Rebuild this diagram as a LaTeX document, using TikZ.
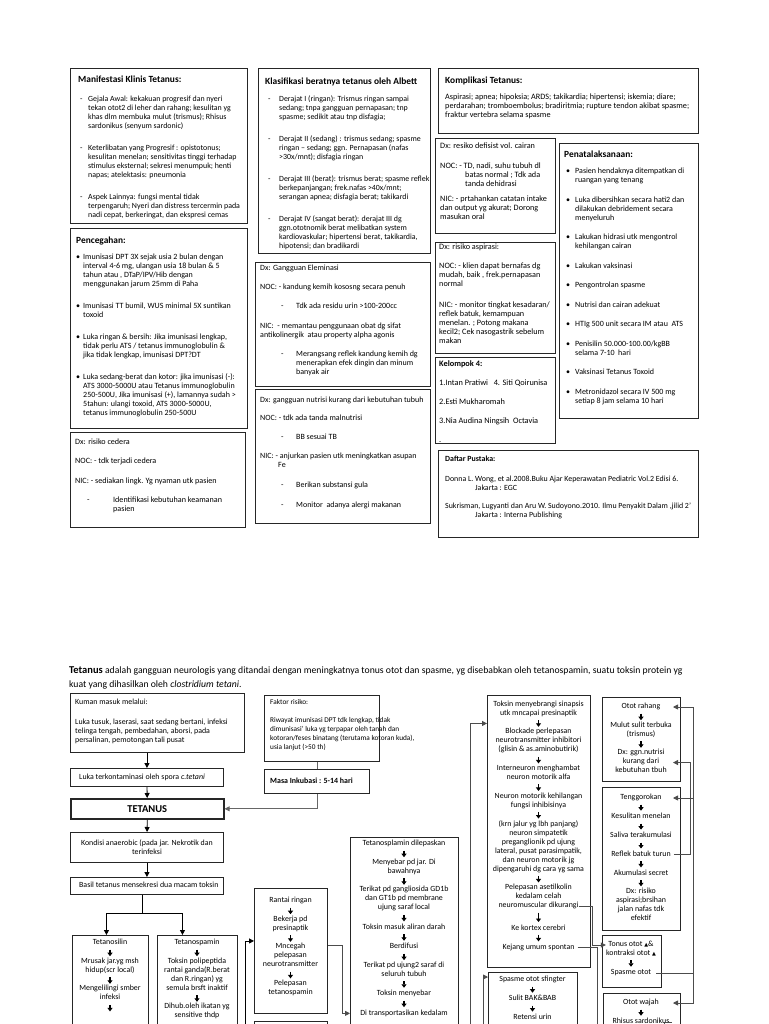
\documentclass[tikz,border=0pt]{standalone}
\usepackage{fontspec}
\setmainfont{Carlito}
\newfontfamily\symfont{DejaVu Sans}
\usetikzlibrary{arrows.meta,positioning}

\newcommand{\sz}[1]{\fontsize{#1}{9}\selectfont}
\newcommand{\bodyfont}{\fontsize{7.9}{9}\selectfont}
\newcommand{\headfont}{\fontsize{9.4}{11}\selectfont\bfseries}
\newcommand{\dsh}[1]{\makebox[#1][l]{-}}
\newcommand{\blt}[1]{\makebox[#1][l]{\textbullet}}
\newcommand{\hng}[1]{\hspace*{#1}}
\newcommand{\upmark}{{\symfont\fontsize{5}{5}\selectfont ▲}}

\begin{document}
\begin{tikzpicture}[
  x=1pt, y=-1pt,
  frame/.style={draw=black!85, line width=0.9pt, anchor=north west, inner sep=0pt},
  txt/.style={anchor=north west, inner sep=0pt, align=left, font=\bodyfont,
    execute at begin node=\strut, execute at end node=\strut},
  head/.style={anchor=base west, inner sep=0pt, font=\headfont},
  stage/.style={inner sep=0pt, align=center, font=\bodyfont,
    execute at begin node=\strut, execute at end node=\strut},
  drop/.style={-{Triangle[width=5pt,length=3.5pt]}, line width=1.3pt, shorten <=2pt, shorten >=1.5pt},
  flow/.style={-{Triangle[width=5pt,length=5pt]}, line width=0.8pt},
  link/.style={line width=0.8pt, draw=black!60}
]
\useasboundingbox (0,0) rectangle (768,1024);
\clip (0,0) rectangle (768,1024);
\fill[white] (0,0) rectangle (768,1024);

% ---------- top sheet ----------
\node[frame, minimum width=177pt, minimum height=155pt] (manif) at (70,68) {};
\node[head] (maniftitle) at (78,82.5) {Manifestasi Klinis Tetanus:};
\node[txt, font=\sz{7.9}] (maniftext) at (80,96) {\dsh{8pt}Gejala Awal: kekakuan progresif dan nyeri\\
\hng{8pt}tekan otot2 di leher dan rahang; kesulitan yg\\
\hng{8pt}khas dlm membuka mulut (trismus); Rhisus\\
\hng{8pt}sardonikus (senyum sardonic)\\[13pt]
\dsh{8pt}Keterlibatan yang Progresif : opistotonus;\\
\hng{8pt}kesulitan menelan; sensitivitas tinggi terhadap\\
\hng{8pt}stimulus eksternal; sekresi menumpuk; henti\\
\hng{8pt}napas; atelektasis: pneumonia\\[13pt]
\dsh{8pt}Aspek Lainnya: fungsi mental tidak\\
\hng{8pt}terpengaruh; Nyeri dan distress tercermin pada\\
\hng{8pt}nadi cepat, berkeringat, dan ekspresi cemas};

\node[frame, minimum width=177pt, minimum height=200pt] (cegah) at (70,228) {};
\node[head] (cegahtitle) at (76,243.5) {Pencegahan:};
\node[txt, font=\sz{8}] (cegahtext) at (76,254) {\blt{7pt}Imunisasi DPT 3X sejak usia 2 bulan dengan\\
\hng{7pt}interval 4-6 mg, ulangan usia 18 bulan \& 5\\
\hng{7pt}tahun atau , DTaP/IPV/Hib dengan\\
\hng{7pt}menggunakan jarum 25mm di Paha\\[13pt]
\blt{7pt}Imunisasi TT bumil, WUS minimal 5X suntikan\\
\hng{7pt}toxoid\\[13pt]
\blt{7pt}Luka ringan \& bersih: Jika imunisasi lengkap,\\
\hng{7pt}tidak perlu ATS / tetanus immunoglobulin \&\\
\hng{7pt}jika tidak lengkap, imunisasi DPT?DT\\[13pt]
\blt{7pt}Luka sedang-berat dan kotor: jika imunisasi (-):\\
\hng{7pt}ATS 3000-5000U atau Tetanus immunoglobulin\\
\hng{7pt}250-500U, Jika imunisasi (+), lamannya sudah >\\
\hng{7pt}5tahun: ulangi toxoid, ATS 3000-5000U,\\
\hng{7pt}tetanus immunoglobulin 250-500U};

\node[frame, minimum width=175pt, minimum height=95pt] (cedera) at (70,432) {};
\node[txt, font=\sz{8.1}] (cederatext) at (75,439) {Dx: risiko cedera\\[10pt]
NOC: - tdk terjadi cedera\\[11pt]
NIC: - sediakan lingk. Yg nyaman utk pasien\\[10pt]
\hng{12pt}\dsh{26pt}Identifikasi kebutuhan keamanan\\
\hng{38pt}pasien};

\node[frame, minimum width=172pt, minimum height=185pt] (klas) at (258,68) {};
\node[head] (klastitle) at (265,84.5) {Klasifikasi beratnya tetanus oleh Albett};
\node[txt, font=\sz{7.9}] (klastext) at (268,96) {\dsh{11pt}Derajat I (ringan): Trismus ringan sampai\\
\hng{11pt}sedang; tnpa gangguan pernapasan; tnp\\
\hng{11pt}spasme; sedikit atau tnp disfagia;\\[13pt]
\dsh{11pt}Derajat II (sedang) : trismus sedang; spasme\\
\hng{11pt}ringan – sedang; ggn. Pernapasan (nafas\\
\hng{11pt}>30x/mnt); disfagia ringan\\[13pt]
\dsh{11pt}Derajat III (berat): trismus berat; spasme reflek\\
\hng{11pt}berkepanjangan; frek.nafas >40x/mnt;\\
\hng{11pt}serangan apnea; disfagia berat; takikardi\\[13pt]
\dsh{11pt}Derajat IV (sangat berat): derajat III dg\\
\hng{11pt}ggn.ototnomik berat melibatkan system\\
\hng{11pt}kardiovaskular; hipertensi berat, takikardia,\\
\hng{11pt}hipotensi; dan bradikardi};

\node[frame, minimum width=175pt, minimum height=124pt] (elim) at (255,262) {};
\node[txt, font=\sz{8}] (elimtext) at (260,265) {Dx: Gangguan Eleminasi\\[10pt]
NOC: - kandung kemih kososng secara penuh\\[10pt]
\hng{21pt}\dsh{15pt}Tdk ada residu urin >100-200cc\\[11pt]
NIC:\ \ - memantau penggunaan obat dg sifat\\
antikolinergik\ \ atau property alpha agonis\\[10pt]
\hng{21pt}\dsh{15pt}Merangsang reflek kandung kemih dg\\
\hng{36pt}menerapkan efek dingin dan minum\\
\hng{36pt}banyak air};

\node[frame, minimum width=175pt, minimum height=134pt] (nutri) at (255,389) {};
\node[txt, font=\sz{8}] (nutritext) at (260,397) {Dx: gangguan nutrisi kurang dari kebutuhan tubuh\\[9pt]
NOC: - tdk ada tanda malnutrisi\\[10pt]
\hng{21pt}\dsh{15pt}BB sesuai TB\\[10pt]
NIC: - anjurkan pasien utk meningkatkan asupan\\
\hng{18pt}Fe\\[11pt]
\hng{21pt}\dsh{15pt}Berikan substansi gula\\[11pt]
\hng{21pt}\dsh{15pt}Monitor\ \ adanya alergi makanan};

\node[frame, minimum width=260pt, minimum height=65pt] (kompl) at (438,68) {};
\node[head] (kompltitle) at (445,83.5) {Komplikasi Tetanus:};
\node[txt, font=\sz{8.2}] (kompltext) at (445,94) {Aspirasi; apnea; hipoksia; ARDS; takikardia; hipertensi; iskemia; diare;\\
perdarahan; tromboembolus; bradiritmia; rupture tendon akibat spasme;\\
fraktur vertebra selama spasme};

\node[frame, minimum width=120pt, minimum height=95pt] (defisit) at (435,138) {};
\node[txt, font=\sz{8.2}] (defisittext) at (440,143) {Dx: resiko defisist vol. cairan\\[11pt]
NOC: - TD, nadi, suhu tubuh dl\\
\hng{25pt}batas normal ; Tdk ada\\
\hng{25pt}tanda dehidrasi\\[6pt]
NIC: - prtahankan catatan intake\\
dan output yg akurat; Dorong\\
masukan oral};

\node[frame, minimum width=139pt, minimum height=275pt] (penata) at (559,143) {};
\node[head] (penatatitle) at (564,157.5) {Penatalaksanaan:};
\node[txt, font=\sz{8}] (penatatext) at (566,168) {\blt{9pt}Pasien hendaknya ditempatkan di\\
\hng{9pt}ruangan yang tenang\\[10.5pt]
\blt{9pt}Luka dibersihkan secara hati2 dan\\
\hng{9pt}dilakukan debridement secara\\
\hng{9pt}menyeluruh\\[10.5pt]
\blt{9pt}Lakukan hidrasi utk mengontrol\\
\hng{9pt}kehilangan cairan\\[10.5pt]
\blt{9pt}Lakukan vaksinasi\\[10.5pt]
\blt{9pt}Pengontrolan spasme\\[10.5pt]
\blt{9pt}Nutrisi dan cairan adekuat\\[10.5pt]
\blt{9pt}HTIg 500 unit secara IM atau\ \ ATS\\[10.5pt]
\blt{9pt}Penisilin 50.000-100.00/kgBB\\
\hng{9pt}selama 7-10\ \ hari\\[10.5pt]
\blt{9pt}Vaksinasi Tetanus Toxoid\\[10.5pt]
\blt{9pt}Metronidazol secara IV 500 mg\\
\hng{9pt}setiap 8 jam selama 10 hari};

\node[frame, minimum width=120pt, minimum height=111pt] (aspir) at (435,242) {};
\node[txt, font=\sz{8.2}] (aspirtext) at (439,244) {Dx: risiko aspirasi:\\[10pt]
NOC: - klien dapat bernafas dg\\
mudah, baik , frek.pernapasan\\
normal\\[12pt]
NIC: - monitor tingkat kesadaran/\\
reflek batuk, kemampuan\\
menelan. ; Potong makana\\
kecil2; Cek nasogastrik sebelum\\
makan};

\node[frame, minimum width=120pt, minimum height=86pt] (kelompok) at (435,357) {};
\node[txt, font=\sz{8.3}] (kelompoktext) at (439,360) {\textbf{Kelompok 4:}\\[10pt]
1.Intan Pratiwi\ \ \ 4. Siti Qoirunisa\\[10pt]
2.Esti Mukharomah\\[10pt]
3.Nia Audina Ningsih\ \ Octavia\\[10pt]
.};

\node[frame, minimum width=260pt, minimum height=87pt] (daftar) at (438,450) {};
\node[txt, font=\sz{7.9}] (daftartext) at (445,456) {\textbf{Daftar Pustaka:}\\[11pt]
Donna L. Wong, et al.2008.Buku Ajar Keperawatan Pediatric Vol.2 Edisi 6.\\
\hng{30pt}Jakarta : EGC\\[9pt]
Sukrisman, Lugyanti dan Aru W. Sudoyono.2010. Ilmu Penyakit Dalam ,jilid 2'\\
\hng{30pt}Jakarta : Interna Publishing};

% ---------- lower sheet ----------
\node[anchor=north west, inner sep=0pt, align=left, font=\fontsize{9.7}{14}\selectfont] (intro) at (69,666)
  {\textbf{\fontsize{10.5}{14}\selectfont Tetanus} adalah gangguan neurologis yang ditandai dengan meningkatnya tonus otot dan spasme, yg disebabkan oleh tetanospamin, suatu toksin protein yg\\
   kuat yang dihasilkan oleh \textit{clostridium tetani}.};

\node[frame, minimum width=174pt, minimum height=59pt] (kuman) at (70,693) {};
\node[txt] (kumantext) at (75,699) {Kuman masuk melalui:\\[11pt]
Luka tusuk, laserasi, saat sedang bertani, infeksi\\
telinga tengah, pembedahan, aborsi, pada\\
persalinan, pemotongan tali pusat};
\node[frame, minimum width=153pt, minimum height=18pt] (luka) at (70,768) {};
\node[txt, anchor=west] (lukatext) at ([xshift=9pt]luka.west) {Luka terkontaminasi oleh spora \textit{c.tetani}};
\node[frame, line width=1.6pt, minimum width=153pt, minimum height=20pt,
  font=\fontsize{10.5}{12}\selectfont\bfseries] (tetanus) at (70,798) {TETANUS};
\node[frame, minimum width=153pt, minimum height=30pt, align=center, font=\bodyfont] (kondisi) at (70,832)
  {Kondisi anaerobic (pada jar. Nekrotik dan\\terinfeksi};
\node[frame, minimum width=153pt, minimum height=17pt] (basil) at (70,877) {};
\node[txt, anchor=west] (basiltext) at ([xshift=9pt]basil.west) {Basil tetanus mensekresi dua macam toksin};

\node[frame, minimum width=115pt, minimum height=66pt] (faktor) at (264,695) {};
\node[txt, font=\sz{7.3}] (faktortext) at (270,699.5) {Faktor risiko:\\[9pt]
Riwayat imunisasi DPT tdk lengkap, tidak\\
dimunisasi' luka yg terpapar oleh tanah dan\\
kotoran/feses binatang (terutama kotoran kuda),\\
usia lanjut (>50 th)};
\node[frame, minimum width=105pt, minimum height=24pt] (masa) at (264,769) {};
\node[txt, anchor=west, font=\bodyfont\bfseries] (masatext) at ([xshift=6pt]masa.west) {Masa Inkubasi : 5-14 hari};

\draw[flow] (kuman.south -| luka.south) -- (luka.north);
\draw[flow] (luka) -- (tetanus);
\draw[flow] (tetanus) -- (kondisi);
\draw[flow] (kondisi) -- (basil);
\draw[link] (faktor.south -| masa.north) -- (masa.north);
\draw[flow, draw=black!60] (masa.south) |- (tetanus.east);

% two toxins
\node[frame, minimum width=76pt, minimum height=100pt] (silbox) at (72,935) {};
\node[stage] (sil1) at (110,943) {Tetanosilin};
\node[stage, below=10pt of sil1] (sil2) {Mrusak jar.yg msh\\hidup(scr local)};
\node[stage, below=10pt of sil2] (sil3) {Mengelilingi smber\\infeksi};
\coordinate[below=10pt of sil3] (sil4);
\draw[drop] (sil1) -- (sil2);
\draw[drop] (sil2) -- (sil3);
\draw[drop] (sil3) -- (sil4);

\node[frame, minimum width=80pt, minimum height=100pt] (spambox) at (157,935) {};
\node[stage] (sp1) at (197,943) {Tetanospamin};
\node[stage, below=10pt of sp1] (sp2) {Toksin polipeptida\\rantai ganda(R.berat\\dan R.ringan) yg\\semula brsft inaktif};
\node[stage, below=10pt of sp2] (sp3) {Dihub.oleh ikatan yg\\sensitive thdp};
\draw[drop] (sp1) -- (sp2);
\draw[drop] (sp2) -- (sp3);

\coordinate (split) at (142,913);
\draw[flow] (split |- basil.south) -- (split) -| ([xshift=-4pt]silbox.north);
\draw[flow] (split) -| ([xshift=-15pt]spambox.north);

% light chain
\node[frame, minimum width=73pt, minimum height=125pt] (rantai) at (254,888) {};
\node[stage] (ra1) at (290.5,901) {Rantai ringan};
\node[stage, below=10pt of ra1] (ra2) {Bekerja pd\\presinaptik};
\node[stage, below=10pt of ra2] (ra3) {Mncegah\\pelepasan\\neurotransmitter};
\node[stage, below=10pt of ra3] (ra4) {Pelepasan\\tetanospamin};
\draw[drop] (ra1) -- (ra2);
\draw[drop] (ra2) -- (ra3);
\draw[drop] (ra3) -- (ra4);
\node[frame, minimum width=73pt, minimum height=30pt] (rantaiB) at (254,1021) {};
\coordinate (rcut) at (245,1030);
\draw[flow] (rcut) |- ([yshift=10pt]rantai.west);

% tetanospasmin path
\node[frame, minimum width=108pt, minimum height=200pt] (big) at (350,837) {};
\node[stage] (bp1) at (404,844) {Tetanosplamin dilepaskan};
\node[stage, below=10pt of bp1] (bp2) {Menyebar pd jar. Di\\bawahnya};
\node[stage, below=10pt of bp2] (bp3) {Terikat pd gangliosida GD1b\\dan GT1b pd membrane\\ujung saraf local};
\node[stage, below=10pt of bp3] (bp4) {Toksin masuk aliran darah};
\node[stage, below=10pt of bp4] (bp5) {Berdifusi};
\node[stage, below=10pt of bp5] (bp6) {Terikat pd ujung2 saraf di\\seluruh tubuh};
\node[stage, below=10pt of bp6] (bp7) {Toksin menyebar};
\node[stage, below=10pt of bp7] (bp8) {Di transportasikan kedalam};
\foreach \a/\b in {bp1/bp2,bp2/bp3,bp3/bp4,bp4/bp5,bp5/bp6,bp6/bp7,bp7/bp8}
  \draw[drop] (\a) -- (\b);
\draw[flow, draw=black!70] ([yshift=5.5pt]rantai.east) -- ++(14,0) |- (bp8 -| big.west);

% synapse
\node[frame, minimum width=103pt, minimum height=272pt] (toksin) at (487,695) {};
\node[stage] (tk1) at (538.5,709.5) {Toksin menyebrangi sinapsis\\utk mncapai presinaptik};
\node[stage, below=10pt of tk1] (tk2) {Blockade perlepasan\\neurotransmitter inhibitori\\(glisin \& as.aminobutirik)};
\node[stage, below=10pt of tk2] (tk3) {Interneuron menghambat\\neuron motorik alfa};
\node[stage, below=10pt of tk3] (tk4) {Neuron motorik kehilangan\\fungsi inhibisinya};
\node[stage, below=10pt of tk4] (tk5) {(krn jalur yg lbh panjang)\\neuron simpatetik\\preganglionik pd ujung\\lateral, pusat parasimpatik,\\dan neuron motorik jg\\dipengaruhi dg cara yg sama};
\node[stage, below=10pt of tk5] (tk6) {Pelepasan asetilkolin\\kedalam celah\\neuromuscular dikurangi};
\node[stage, below=13pt of tk6] (tk7) {Ke kortex cerebri};
\node[stage, below=10pt of tk7] (tk8) {Kejang umum spontan};
\foreach \a/\b in {tk1/tk2,tk2/tk3,tk3/tk4,tk4/tk5,tk5/tk6,tk6/tk7,tk7/tk8}
  \draw[drop] (\a) -- (\b);
\coordinate (lcutA) at (470,1030);
\draw[flow, draw=black!70] (lcutA) |- ([yshift=108pt]toksin.west);

\node[frame, minimum width=89pt, minimum height=60pt] (sfing) at (488,972) {};
\node[stage] (sf1) at (532.5,980) {Spasme otot sfingter};
\node[stage, below=9.5pt of sf1] (sf2) {Sulit BAK\&BAB};
\node[stage, below=9.5pt of sf2] (sf3) {Retensi urin};
\draw[drop] (sf1) -- (sf2);
\draw[drop] (sf2) -- (sf3);
\coordinate (lcutB) at (483,1030);
\draw[flow, draw=black!70] (lcutB) |- ([yshift=-5pt]sfing.north west);

% muscles
\node[frame, minimum width=78pt, minimum height=84pt] (rahang) at (602,697) {};
\node[stage] (rh1) at (641,707) {Otot rahang};
\node[stage, below=10pt of rh1] (rh2) {Mulut sulit terbuka\\(trismus)};
\node[stage, below=10pt of rh2] (rh3) {Dx: ggn.nutrisi\\kurang dari\\kebutuhan tbuh};
\draw[drop] (rh1) -- (rh2);
\draw[drop] (rh2) -- (rh3);

\node[frame, minimum width=78pt, minimum height=143pt] (tenggor) at (602,787) {};
\node[stage] (tg1) at (641,798) {Tenggorokan};
\node[stage, below=9.5pt of tg1] (tg2) {Kesulitan menelan};
\node[stage, below=9.5pt of tg2] (tg3) {Saliva terakumulasi};
\node[stage, below=9.5pt of tg3] (tg4) {Reflek batuk turun};
\node[stage, below=9.5pt of tg4] (tg5) {Akumulasi secret};
\node[stage, below=9.5pt of tg5] (tg6) {Dx: risiko\\aspirasi;brsihan\\jalan nafas tdk\\efektif};
\foreach \a/\b in {tg1/tg2,tg2/tg3,tg3/tg4,tg4/tg5,tg5/tg6}
  \draw[drop] (\a) -- (\b);

\node[frame, minimum width=59pt, minimum height=52pt] (tonus) at (602,935) {};
\node[stage] (tn1) at (631,949.5) {Tonus otot \upmark\&\\kontraksi otot \upmark};
\node[stage, below=10pt of tn1] (tn2) {Spasme otot};
\draw[drop] (tn1) -- (tn2);

\node[frame, minimum width=77pt, minimum height=50pt] (wajah) at (603,993) {};
\node[stage] (wj1) at (641,1003) {Otot wajah};
\node[stage, below=9.5pt of wj1] (wj2) {Rhisus sardonikus};
\draw[drop] (wj1) -- (wj2);

\coordinate (busx) at (693,0);
\coordinate (refx) at (690,0);
\coordinate (tipx) at (673,0);
\draw[link, draw=black!70] ([xshift=5pt]tn2.east) -- (tn2.east -| busx);
\draw[flow, draw=black!70] (tn2.east -| busx) |- (rh1 -| tipx);
\draw[flow, draw=black!70] (tn2.east -| busx) |- (tg1 -| tipx);
\draw[flow, draw=black!70] (tn2.east -| busx) |- (wj1 -| tipx);
\draw[flow, draw=black!70] ([xshift=3pt]tg4.east) -- (tg4.east -| refx) |- (rh3 -| tipx);
\draw[flow, draw=black!70] ([yshift=4.5pt]tk6.south east) -- ++(14,0) |- ([yshift=4.5pt]tn1.west);
\coordinate (kjcut) at (597,1030);
\draw[link, draw=black!70] ([xshift=3pt]tk8.east) -| (kjcut);
\coordinate (wjcut) at (664,1030);
\draw[link, draw=black!70] ([xshift=2pt]wj2.east) -| (wjcut);
\end{tikzpicture}
\end{document}
